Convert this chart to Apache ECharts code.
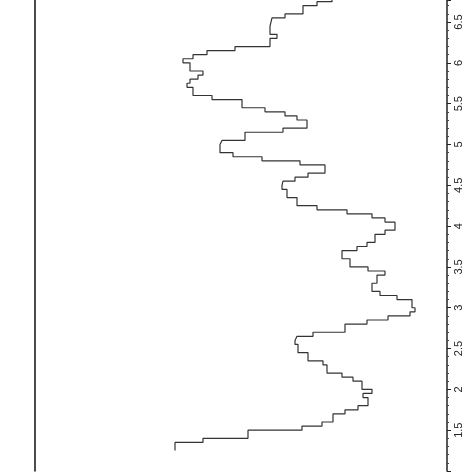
<!DOCTYPE html>
<html>
<head>
<meta charset="utf-8">
<script src="https://cdn.jsdelivr.net/npm/echarts@6/dist/echarts.min.js"></script>
<style>html,body{margin:0;background:#fff}#c{width:474px;height:474px}</style>
</head>
<body>
<div id="c"></div>
<script>
// bin lower edges (axis value) and bin heights (horizontal extent)
var edges = [1.25, 1.35, 1.4, 1.5, 1.55, 1.6, 1.7, 1.75, 1.8, 1.9, 1.95, 2.0, 2.1, 2.15, 2.2, 2.3, 2.35, 2.45, 2.55, 2.6, 2.65, 2.7, 2.8, 2.85, 2.9, 2.95, 3.0, 3.1, 3.15, 3.2, 3.3, 3.4, 3.45, 3.5, 3.6, 3.7, 3.75, 3.8, 3.9, 3.95,
  4.0, 4.05, 4.1, 4.15, 4.2, 4.25, 4.35, 4.45, 4.5, 4.55, 4.6, 4.65, 4.75, 4.8, 4.85, 4.9, 5.0, 5.05, 5.15, 5.2, 5.3, 5.35, 5.4, 5.45, 5.55, 5.6, 5.7, 5.75, 5.8, 5.85, 5.9, 6.0, 6.05, 6.1, 6.15, 6.2, 6.3, 6.35, 6.45, 6.55, 6.6, 6.7, 6.75];
var lastEdge = 6.8;
var counts = [175, 203, 248, 302, 322, 333, 345, 358, 368, 363, 372, 362, 353, 342, 327, 323, 308, 298, 295, 297, 313, 345, 367, 388, 410, 415, 412, 397, 380, 372, 377, 385, 368, 350, 342, 357, 367, 375, 385, 395,
  395, 385, 372, 347, 317, 297, 287, 282, 283, 295, 308, 325, 300, 262, 233, 220, 222, 245, 283, 307, 297, 285, 265, 242, 212, 193, 187, 190, 198, 203, 190, 183, 193, 207, 235, 270, 277, 270, 272, 285, 303, 317, 332];

var pts = [];
for (var i = 0; i < counts.length; i++) {
  var hi = i + 1 < edges.length ? edges[i + 1] : lastEdge;
  pts.push([counts[i], edges[i]]);
  pts.push([counts[i], hi]);
}

var chart = echarts.init(document.getElementById('c'));
chart.setOption({
  backgroundColor: '#fff',
  animation: false,
  grid: {left: 35, right: 27, top: 0, bottom: -22},
  xAxis: {type: 'value', min: 35, max: 447, show: false},
  yAxis: [{
    type: 'value', position: 'right', min: 1, max: 6.77, interval: 0.5,
    axisLine: {show: true, lineStyle: {color: '#222', width: 1.5}},
    axisTick: {show: true, length: 4, lineStyle: {color: '#222'}},
    minorTick: {show: true, splitNumber: 5, length: 2, lineStyle: {color: '#444'}},
    splitLine: {show: false},
    axisLabel: {
      rotate: 90, margin: 6, color: '#222', fontSize: 11, fontFamily: 'Liberation Sans',
      showMaxLabel: false,
      formatter: function (v) { return (v > 1.2 && v < 6.7) ? String(v) : ''; }
    }
  }, {
    type: 'value', position: 'left', min: 1, max: 6.77,
    axisLine: {show: true, lineStyle: {color: '#111', width: 1.5}},
    axisTick: {show: false}, axisLabel: {show: false}, splitLine: {show: false}
  }],
  series: [{
    type: 'line', data: pts, showSymbol: false,
    lineStyle: {color: '#333', width: 1.2}
  }]
});
</script>
</body>
</html>
